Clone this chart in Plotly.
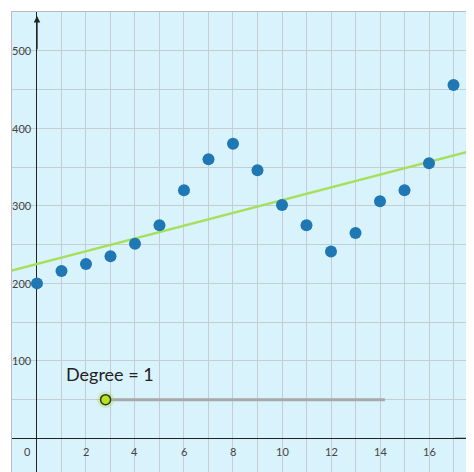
import plotly.graph_objects as go

x_vals = list(range(18))
y_vals = [200, 216, 225, 235, 251, 275, 320, 360, 380, 346, 301, 275, 241, 265, 306, 320, 355, 456]
line_x = [-1.1, 18.1]
line_y = [216, 374]
x_ticks = [0, 2, 4, 6, 8, 10, 12, 14, 16]
y_ticks = [100, 200, 300, 400, 500]
slider_x = [2.8, 14.2]
slider_y = 50
degree = 1

fig = go.Figure()
fig.add_trace(go.Scatter(x=line_x, y=line_y, mode="lines", line=dict(color="#a6e05a", width=2.5), hoverinfo="skip"))
fig.add_trace(go.Scatter(x=slider_x, y=[slider_y]*2, mode="lines", line=dict(color="#a8a8a8", width=3), hoverinfo="skip"))
fig.add_trace(go.Scatter(x=[slider_x[0]], y=[slider_y], mode="markers",
                         marker=dict(size=17, color="rgba(170,220,60,0.35)"), hoverinfo="skip"))
fig.add_trace(go.Scatter(x=[slider_x[0]], y=[slider_y], mode="markers",
                         marker=dict(size=10, color="#b5e61d", line=dict(color="#333", width=1.5)), hoverinfo="skip"))
fig.add_trace(go.Scatter(x=x_vals, y=y_vals, mode="markers", marker=dict(size=12, color="#1f77b4")))

ann = []
for t in x_ticks:
    ann.append(dict(x=t, y=0, text=str(t), showarrow=False, yshift=-13, xshift=-9 if t == 0 else 0,
                    font=dict(size=11, color="#444")))
for t in y_ticks:
    ann.append(dict(x=0, y=t, text=str(t), showarrow=False, xanchor="right", xshift=-3,
                    font=dict(size=11, color="#444")))
ann.append(dict(x=1.1, y=83, text=f"Degree = {degree}", showarrow=False, xanchor="left",
                font=dict(size=18, color="#222", family="Lato")))
ann.append(dict(x=0, y=545, ax=0, ay=500, xref="x", yref="y", axref="x", ayref="y", text="",
                showarrow=True, arrowhead=2, arrowsize=1, arrowwidth=1.3, arrowcolor="#222"))
ann.append(dict(x=17.9, y=0, ax=17, ay=0, xref="x", yref="y", axref="x", ayref="y", text="",
                showarrow=True, arrowhead=2, arrowsize=1, arrowwidth=1.3, arrowcolor="#222"))

fig.update_layout(
    width=474, height=472, margin=dict(l=4, r=4, t=4, b=2, autoexpand=False),
    paper_bgcolor="white", plot_bgcolor="#d9f3fc", showlegend=False,
    annotations=ann, font=dict(family="Lato"),
    xaxis=dict(range=[-1.02, 18.0], dtick=1, tick0=0, showticklabels=False, gridcolor="#c4cdd2",
               gridwidth=1, zeroline=True, zerolinecolor="#222", zerolinewidth=1.3,
               showline=True, mirror=True, linecolor="#bbb", fixedrange=True),
    yaxis=dict(range=[-51, 550], dtick=50, tick0=0, showticklabels=False, gridcolor="#c4cdd2",
               gridwidth=1, zeroline=True, zerolinecolor="#222", zerolinewidth=1.3,
               showline=True, mirror=True, linecolor="#bbb", fixedrange=True),
)
fig.write_html("out.html")
